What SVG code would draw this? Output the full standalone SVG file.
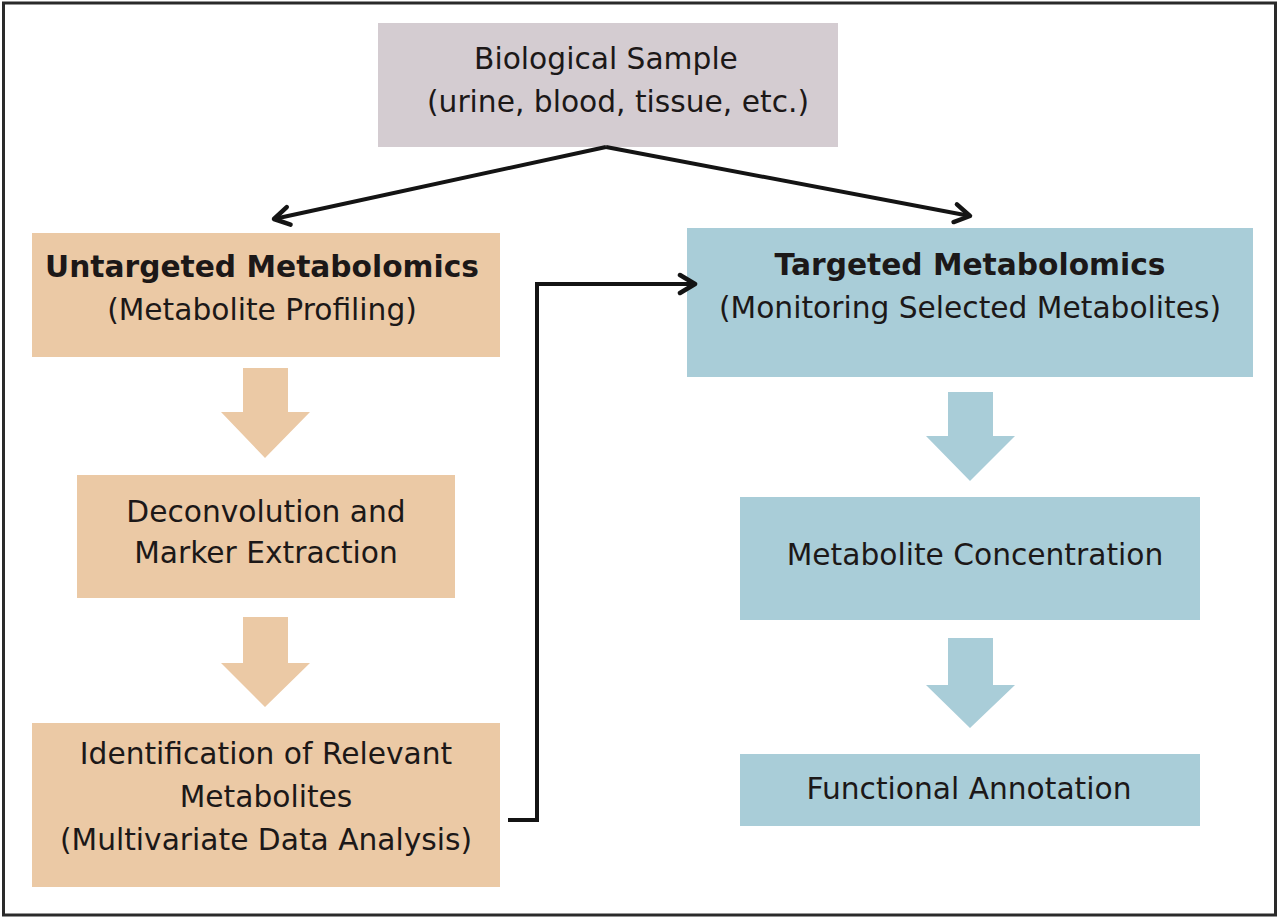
<svg xmlns="http://www.w3.org/2000/svg" width="1280" height="920" viewBox="0 0 1280 920">
<defs>
<style>
.t{font-family:"DejaVu Sans",Verdana,sans-serif;font-size:29.7px;fill:#1c1818;text-anchor:middle}
.b{font-weight:bold}
.or{fill:#ebc9a5}
.bl{fill:#a9cdd8}
.ln{fill:none;stroke:#141414;stroke-width:4;stroke-linejoin:miter}
</style>
<marker id="ah" viewBox="0 0 24 24" markerWidth="24" markerHeight="24" refX="20" refY="12" orient="auto" markerUnits="userSpaceOnUse">
<path d="M5,3 L20,12 L5,21" fill="none" stroke="#141414" stroke-width="4.5" stroke-linecap="round" stroke-linejoin="round"/>
</marker>
</defs>
<rect x="0" y="0" width="1280" height="920" fill="#ffffff"/>
<rect x="3.5" y="3" width="1272" height="912" fill="none" stroke="#2a2a2a" stroke-width="3"/>

<g id="sample">
<rect x="378" y="23" width="460" height="124" fill="#d4ccd1"/>
<text class="t" x="606" y="69">Biological Sample</text>
<text class="t" x="618" y="112">(urine, blood, tissue, etc.)</text>
</g>

<g id="untargeted">
<rect class="or" x="32" y="233" width="468" height="124"/>
<text class="t b" x="262" y="277">Untargeted Metabolomics</text>
<text class="t" x="262" y="320">(Metabolite Profiling)</text>
</g>

<g id="deconvolution">
<rect class="or" x="77" y="475" width="378" height="123"/>
<text class="t" x="266" y="522">Deconvolution and</text>
<text class="t" x="266" y="563">Marker Extraction</text>
</g>

<g id="identification">
<rect class="or" x="32" y="723" width="468" height="164"/>
<text class="t" x="266" y="764">Identification of Relevant</text>
<text class="t" x="266" y="807">Metabolites</text>
<text class="t" x="266" y="850">(Multivariate Data Analysis)</text>
</g>

<g id="targeted">
<rect class="bl" x="687" y="228" width="566" height="149"/>
<text class="t b" x="970" y="275">Targeted Metabolomics</text>
<text class="t" x="970" y="318">(Monitoring Selected Metabolites)</text>
</g>

<g id="concentration">
<rect class="bl" x="740" y="497" width="460" height="123"/>
<text class="t" x="975" y="565">Metabolite Concentration</text>
</g>

<g id="annotation">
<rect class="bl" x="740" y="754" width="460" height="72"/>
<text class="t" x="969" y="799">Functional Annotation</text>
</g>

<g id="connectors">
<path class="or" d="M243,368 H288 V412 H310 L265,458 L221,412 H243 Z"/>
<path class="or" d="M243,617 H288 V663 H310 L265,707 L221,663 H243 Z"/>
<path class="bl" d="M948,392 H993 V436 H1015 L970,481 L926,436 H948 Z"/>
<path class="bl" d="M948,638 H993 V685 H1015 L970,728 L926,685 H948 Z"/>
<path class="ln" d="M606,147 L274,219" marker-end="url(#ah)"/>
<path class="ln" d="M606,147 L970,216" marker-end="url(#ah)"/>
<path class="ln" d="M508,820 H537 V284 H695" marker-end="url(#ah)"/>
</g>
</svg>
